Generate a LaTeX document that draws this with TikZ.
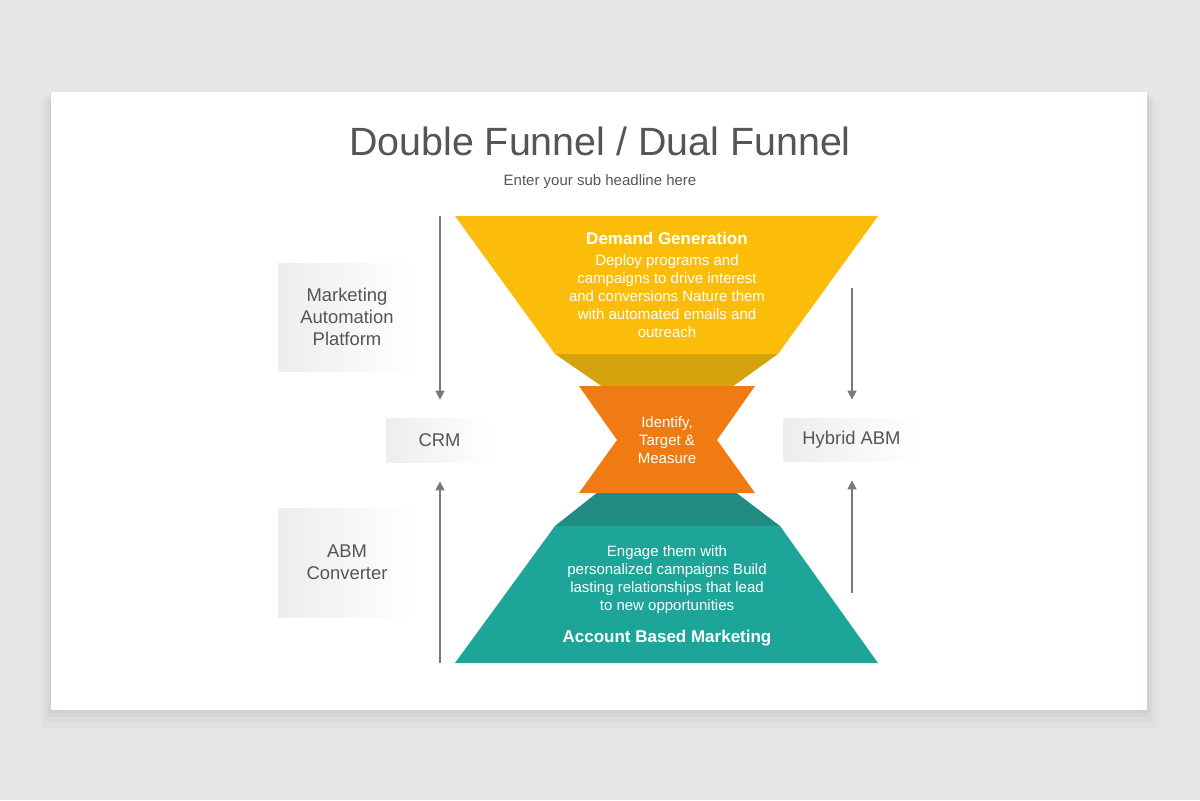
\documentclass[tikz,border=0pt]{standalone}
\usepackage{fontspec}
\setmainfont{Liberation Sans}
\usetikzlibrary{arrows.meta,positioning}

\definecolor{pagegray}{HTML}{E8E6E8}
\definecolor{textgray}{HTML}{555555}
\definecolor{arrowgray}{HTML}{7A7A7A}
\definecolor{boxgray}{HTML}{EDEDED}
\definecolor{demandyellow}{HTML}{FBBD0A}
\definecolor{demanddark}{HTML}{D4A30E}
\definecolor{measureorange}{HTML}{F07B13}
\definecolor{accountteal}{HTML}{1DA59A}
\definecolor{accountdark}{HTML}{1F8B81}

\newcommand{\fsz}[2]{\fontsize{#1}{#2}\selectfont}

\tikzset{
  titletext/.style={text=textgray, font=\fsz{19.7pt}{24pt}},
  subtext/.style={text=textgray, font=\fsz{7.5pt}{9pt}},
  headtext/.style={text=white, font=\fsz{8.5pt}{10pt}\bfseries},
  bodytext/.style={text=white, align=center, font=\fsz{7.5pt}{9pt}},
  sidebox/.style={left color=boxgray, right color=white, text=textgray,
    align=center, inner sep=0pt, font=\fsz{9.2pt}{11pt}},
  flowarrow/.style={draw=arrowgray, line width=0.8pt,
    -{Triangle[length=4.5pt,width=4.5pt]}}
}

\begin{document}
\begin{tikzpicture}[x=0.5pt,y=-0.5pt]
  \fill[pagegray] (0,0) rectangle (1200,800);
  \foreach \d/\o in {3/0.025,7/0.02,12/0.018,18/0.015,25/0.012}
    \fill[black,opacity=\o] (51-\d/2,92+\d/3) rectangle (1147+\d/2,710+\d);
  \fill[white] (51,92) rectangle (1147,710);

  \node[titletext] (title) at (600,141) {Double Funnel / Dual Funnel};
  \node[subtext] (sub) at (600,182) {Enter your sub headline here};

  \fill[demanddark] (555,354) -- (778,354) -- (725,392) -- (610,392) -- cycle;
  \fill[demandyellow] (455,216) -- (878,216) -- (778,354) -- (555,354) -- cycle;
  \fill[accountdark] (603,488) -- (730,488) -- (780,526) -- (555,526) -- cycle;
  \fill[accountteal] (555,526) -- (780,526) -- (878,663) -- (455,663) -- cycle;
  \fill[measureorange] (579,386) -- (755,386) -- (717,440) -- (755,493)
    -- (579,493) -- (617,440) -- cycle;

  \node[headtext] (demand) at (667,238) {Demand Generation};
  \node[bodytext] (demandtext) at (667,296) {Deploy programs and\\
    campaigns to drive interest\\and conversions Nature them\\
    with automated emails and\\outreach};
  \node[bodytext] (measure) at (667,440) {Identify,\\Target \&\\Measure};
  \node[bodytext] (accounttext) at (667,580) {Engage them with\\
    personalized campaigns Build\\lasting relationships that lead\\
    to new opportunities};
  \node[headtext] (account) at (667,638) {Account Based Marketing};

  \node[sidebox, minimum width=69pt, minimum height=54pt] (map) at (347,317)
    {Marketing\\Automation\\Platform};
  \node[sidebox, minimum width=53pt, minimum height=22pt] (crm) at (439.5,440)
    {CRM};
  \node[sidebox, minimum width=69pt, minimum height=54.5pt] (converter) at (347,562.5)
    {ABM\\Converter};
  \node[sidebox, minimum width=68pt, minimum height=21.5pt] (hybrid) at (851.5,439.5)
    {Hybrid ABM};

  \coordinate (crmin) at (440,216);
  \coordinate (crmout) at (440,663);
  \coordinate (hybridin) at (852,288);
  \coordinate (hybridout) at (852,593);

  \draw[flowarrow, shorten >=9pt] (crmin) -- (crmin |- crm.north);
  \draw[flowarrow, shorten >=9.5pt] (crmout) -- (crmout |- crm.south);
  \draw[flowarrow, shorten >=9pt] (hybridin) -- (hybridin |- hybrid.north);
  \draw[flowarrow, shorten >=9.5pt] (hybridout) -- (hybridout |- hybrid.south);
\end{tikzpicture}
\end{document}
